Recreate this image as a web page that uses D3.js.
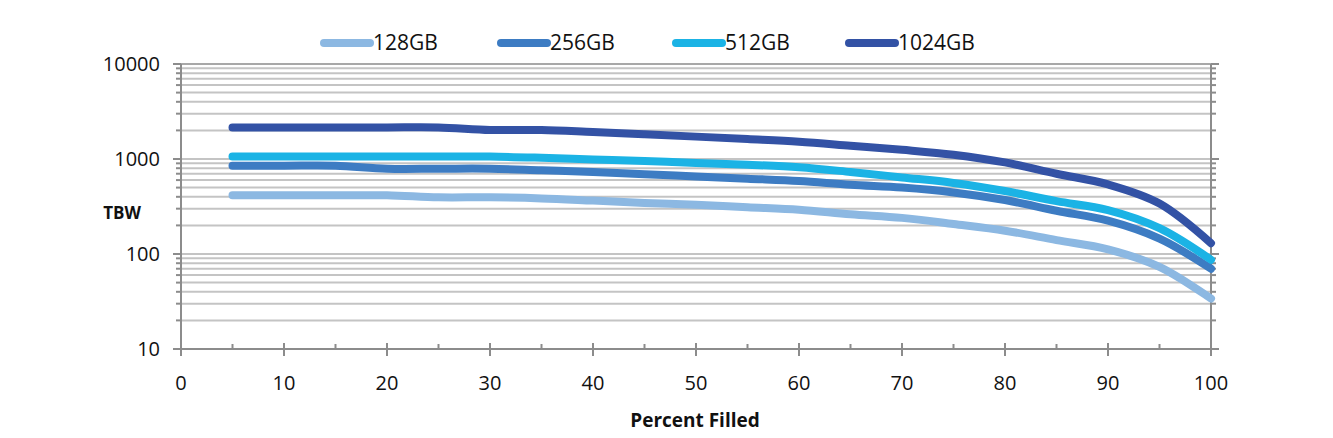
<!DOCTYPE html>
<html><head><meta charset="utf-8">
<script src="https://cdn.jsdelivr.net/npm/d3@7"></script>
<style>body{margin:0;background:#fff}svg{display:block}</style>
</head><body>
<svg id="c" width="1333" height="438"></svg>
<script>
const percentFilled = [5,10,15,20,25,30,35,40,45,50,55,60,65,70,75,80,85,90,95,100];
const tbw128  = [415,415,415,415,395,395,385,365,345,330,310,292,262,240,207,176,140,112,73,34];
const tbw256  = [850,850,850,790,790,790,760,730,690,655,620,588,535,500,445,370,285,224,145,70];
const tbw512  = [1060,1060,1060,1060,1060,1060,1030,990,950,910,870,820,730,640,560,460,360,290,187,87];
const tbw1024 = [2150,2150,2150,2150,2150,2020,2020,1920,1820,1720,1620,1520,1380,1250,1110,920,700,540,340,130];
const seriesNames = ["128GB","256GB","512GB","1024GB"];
const seriesColors = ["#8cb8e2","#3d7cc3","#1bb3e5","#3352a5"];
const yTickLabels = [10,100,1000,10000];
const xTickLabels = [0,10,20,30,40,50,60,70,80,90,100];

const svg = d3.select("#c");
const L=181, R=1211, T=64, B=349;
const x = d3.scaleLinear().domain([0,100]).range([L,R]);
const y = d3.scaleLog().domain([10,10000]).range([B,T]);
const font = "'Open Sans', sans-serif";

const gridVals = [];
for (let d=10; d<10000; d*=10) for (let k=1;k<10;k++) gridVals.push(d*k);
gridVals.push(10000);

const g = svg.append("g");
gridVals.forEach(v=>{
  if (v===10) return;
  g.append("line").attr("x1",L).attr("x2",R).attr("y1",y(v)).attr("y2",y(v))
   .attr("stroke", v===10000? "#a8a8a8":"#c4c4c4").attr("stroke-width",2);
});
gridVals.forEach(v=>{
  const major = yTickLabels.includes(v);
  g.append("line").attr("x1",L-(major?8:5)).attr("x2",L).attr("y1",y(v)).attr("y2",y(v))
   .attr("stroke","#8c8c8c").attr("stroke-width",2);
  g.append("line").attr("x1",R).attr("x2",R+(major?8:5)).attr("y1",y(v)).attr("y2",y(v))
   .attr("stroke","#8c8c8c").attr("stroke-width",2);
});
g.append("line").attr("x1",L).attr("x2",L).attr("y1",T).attr("y2",B).attr("stroke","#8c8c8c").attr("stroke-width",2);
g.append("line").attr("x1",R).attr("x2",R).attr("y1",T).attr("y2",B).attr("stroke","#8c8c8c").attr("stroke-width",2);
g.append("line").attr("x1",L-2).attr("x2",R+2).attr("y1",B).attr("y2",B).attr("stroke","#8c8c8c").attr("stroke-width",2);
d3.range(0,101,5).forEach(v=>{
  const major = v%10===0;
  g.append("line").attr("x1",x(v)).attr("x2",x(v)).attr("y1",B-(major?6:5)).attr("y2",B+(major?7:0))
   .attr("stroke","#8c8c8c").attr("stroke-width",2);
});
yTickLabels.forEach(v=>{
  svg.append("text").attr("x",160).attr("y",y(v)).attr("dy","0.35em").attr("text-anchor","end")
   .attr("font-family",font).attr("font-size",20).attr("fill","#111").text(v);
});
xTickLabels.forEach(v=>{
  svg.append("text").attr("x",x(v)).attr("y",383).attr("dy","0.35em").attr("text-anchor","middle")
   .attr("font-family",font).attr("font-size",20).attr("fill","#111").text(v);
});
svg.append("text").attr("x",122).attr("y",213).attr("dy","0.35em").attr("text-anchor","middle")
  .attr("font-family",font).attr("font-size",17).attr("font-weight","bold").attr("fill","#111").text("TBW");
svg.append("text").attr("x",695).attr("y",420).attr("dy","0.35em").attr("text-anchor","middle")
  .attr("font-family",font).attr("font-size",19).attr("font-weight","bold").attr("fill","#111").text("Percent Filled");

const data = [tbw128,tbw256,tbw512,tbw1024];
const line = d3.line().x((d,i)=>x(percentFilled[i])).y(d=>y(d)).curve(d3.curveCatmullRom.alpha(0.5));
data.forEach((s,i)=>{
  svg.append("path").attr("d",line(s)).attr("fill","none").attr("stroke",seriesColors[i])
   .attr("stroke-width",8).attr("stroke-linecap","round").attr("stroke-linejoin","round");
});

const legX = [320,497,672,845];
seriesNames.forEach((n,i)=>{
  svg.append("line").attr("x1",legX[i]+4).attr("x2",legX[i]+50).attr("y1",43).attr("y2",43)
   .attr("stroke",seriesColors[i]).attr("stroke-width",8).attr("stroke-linecap","round");
  svg.append("text").attr("x",legX[i]+53).attr("y",43).attr("dy","0.35em")
   .attr("font-family",font).attr("font-size",21).attr("fill","#111").text(n);
});
</script>
</body></html>
